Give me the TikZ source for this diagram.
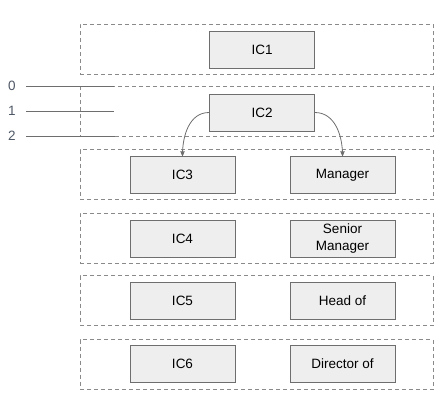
\documentclass[tikz,border=0pt]{standalone}
\usepackage{fontspec}
\setmainfont{Liberation Sans}
\usepackage{tikz}
\usetikzlibrary{arrows,positioning}
\definecolor{boxline}{HTML}{6E6E6E}
\definecolor{boxfill}{HTML}{EEEEEE}
\definecolor{bandline}{HTML}{8A8A8A}
\definecolor{levelnum}{HTML}{4F5866}
\tikzstyle{role node}=[rectangle,draw=boxline,fill=boxfill,line width=0.9pt,minimum width=105pt,minimum height=37pt,inner sep=0pt,align=center,font=\fontsize{13.5}{16.5}\selectfont]
\tikzstyle{band node}=[rectangle,draw=bandline,dashed,dash pattern=on 4pt off 3pt,line width=0.8pt,minimum width=353pt,minimum height=50pt,inner sep=0pt]
\tikzstyle{level node}=[text=levelnum,font=\fontsize{13.5}{15}\selectfont,inner sep=0pt]

\begin{document}
\begin{tikzpicture}[x=1pt,y=-1pt,>=stealth']
  \useasboundingbox (0,0) rectangle (444,408);
%
  \node[band node] (b1) at (256.5,49) {};
  \node[band node] (b2) at (256.5,111) {};
  \node[band node] (b3) at (256.5,174.5) {};
  \node[band node] (b4) at (256.5,238) {};
  \node[band node] (b5) at (256.5,300.5) {};
  \node[band node] (b6) at (256.5,364.5) {};
%
  \node[level node] (l0) at (12,86) {0};
  \node[level node] (l1) at (12,111) {1};
  \node[level node] (l2) at (12,136) {2};
  \coordinate (s0) at (26,86);
  \coordinate (s1) at (26,111);
  \coordinate (s2) at (26,136);
  \coordinate (e0) at (114,86);
  \coordinate (e1) at (114,111);
  \coordinate (e2) at (115,136);
  \draw[boxline,line width=0.9pt] (s0) -- (e0);
  \draw[boxline,line width=0.9pt] (s1) -- (e1);
  \draw[boxline,line width=0.9pt] (s2) -- (e2);
%
  \node[role node] (ic1) at (262,50) {IC1};
  \node[role node] (ic2) at (262,112.5) {IC2};
  \node[role node] (ic3) at (182.5,175) {IC3};
  \node[role node] (mgr) at (342.5,175) {Manager};
  \node[role node] (ic4) at (182.5,238.5) {IC4};
  \node[role node] (smgr) at (342.5,238.5) {Senior\\Manager};
  \node[role node] (ic5) at (182.5,300.5) {IC5};
  \node[role node] (head) at (342.5,300.5) {Head of};
  \node[role node] (ic6) at (182.5,363.5) {IC6};
  \node[role node] (dir) at (342.5,363.5) {Director of};
%
  \draw[->,boxline,line width=0.8pt] (ic2.west) to[out=180,in=90] (ic3.north);
  \draw[->,boxline,line width=0.8pt] (ic2.east) to[out=0,in=90] (mgr.north);
%
\end{tikzpicture}
\end{document}
